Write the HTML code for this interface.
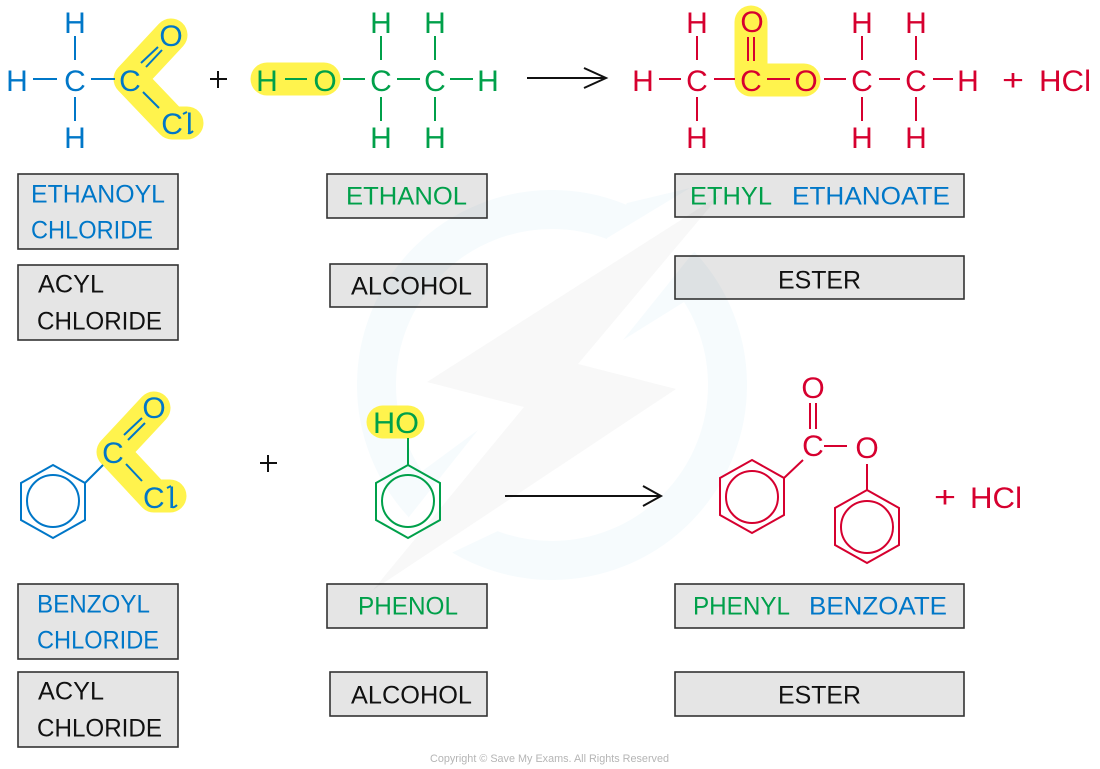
<!DOCTYPE html>
<html><head><meta charset="utf-8">
<style>
html,body{margin:0;padding:0;background:#fff;width:1100px;height:769px;overflow:hidden}
svg{display:block}
text{font-family:"Liberation Sans",sans-serif}
.a text{font-size:30px;text-anchor:middle}
.l text{font-size:25px}
.b{fill:#0077c8;stroke:none}.g{fill:#00a04a}.r{fill:#d6002f}.k{fill:#111}
.box rect{fill:#e5e5e5;stroke:#333;stroke-width:1.6}
.hl{fill:none;stroke:#fff34d;stroke-width:33;stroke-linecap:round;stroke-linejoin:round}
.sb{stroke:#0077c8;stroke-width:2;fill:none}.sg{stroke:#00a04a;stroke-width:2;fill:none}.sr{stroke:#d6002f;stroke-width:2;fill:none}.sk{stroke:#111;stroke-width:2;fill:none}
</style></head><body>
<svg width="1100" height="769" viewBox="0 0 1100 769" xmlns="http://www.w3.org/2000/svg">
<g class="box">
<rect x="18" y="174" width="160" height="75"/><rect x="18" y="265" width="160" height="75"/>
<rect x="327" y="174" width="160" height="44"/><rect x="330" y="264" width="157" height="43"/>
<rect x="675" y="174" width="289" height="43"/><rect x="675" y="256" width="289" height="43"/>
<rect x="18" y="584" width="160" height="75"/><rect x="18" y="672" width="160" height="75"/>
<rect x="327" y="584" width="160" height="44"/><rect x="330" y="672" width="157" height="44"/>
<rect x="675" y="584" width="289" height="44"/><rect x="675" y="672" width="289" height="44"/>
</g>
<g style="mix-blend-mode:multiply">
<circle cx="552" cy="385" r="175.5" fill="none" stroke="#f6fbfd" stroke-width="39"/>
<polygon points="607,238 690,188 770,210 693,253 623,340" fill="#fff"/>
<polygon points="500,530 373,590 395,530 408,518 478,430" fill="#fff"/>
<polygon points="607,238 627,203 690,188" fill="#f6fbfd"/>
<polygon points="693,253 623,340 684,302" fill="#f6fbfd"/>
<polygon points="478,430 421,472 408,518" fill="#f6fbfd"/>
<polygon points="720,195 427,382 524,407 373,590 676,389 578,364" fill="#f8f8f8"/>
</g>
<path class="hl" d="M171 35 L130 79 L172 123 L187 123"/>
<path class="hl" d="M267 79 H324"/>
<path class="hl" d="M751 22 V80 H804"/>
<path class="hl" d="M154 408 L113 452 L154 496 L170 496"/>
<path class="hl" d="M383 422 H408"/>
<g class="sb">
<path d="M33 79H57M91 79H115M75 36V60M75 97V121M141 63L158 47M146 67L162 50M143 92L159 108"/>
<polygon points="53,465 85,483 85,520 53,538 21,520 21,483"/>
<circle cx="53" cy="501" r="26"/>
<path d="M85 483L103 465M124 435L142 418M128 440L145 423M126 464L142 481"/>
<path d="M183 114L187 112M188 133Q190 134 193 131M167 488L171 486M172 507Q174 508 177 505"/>
</g>
<g class="sg">
<path d="M285 79H307M343 79H365M397 79H420M450 79H473M381 36V60M381 97V121M435 36V60M435 97V121"/>
<path d="M408 438V465"/>
<polygon points="408,465 440,483 440,520 408,538 376,520 376,483"/>
<circle cx="408" cy="501" r="26"/>
</g>
<g class="sr">
<path d="M659 79H681M714 79H735M767 79H790M824 79H846M879 79H900M933 79H953M697 36V60M697 97V121M862 36V60M862 97V121M916 36V60M916 97V121M748 37V61M754 37V61"/>
<path d="M810 403V429M816 403V429M824 446H847M867 464V490M784 478L803 460"/>
<polygon points="752,460 784,478 784,515 752,533 720,515 720,478"/>
<circle cx="752" cy="497" r="26"/>
<polygon points="867,490 899,508 899,545 867,563 835,545 835,508"/>
<circle cx="867" cy="527" r="26"/>
</g>
<g class="sk">
<path d="M527 78H606M584 68L606 78L584 88M505 496H661M643 486L661 496L643 506"/>
<path d="M210 79H227M218 71V88M260 463H277M268 455V472"/>
</g>
<g class="a">
<g class="b">
<text x="75" y="33">H</text>
<text x="17" y="91">H</text>
<text x="75" y="91">C</text>
<text x="130" y="91">C</text>
<text x="171" y="46">O</text>
<text x="177" y="134" textLength="31.4" lengthAdjust="spacing">Cl</text>
<text x="75" y="148">H</text>
<text x="113" y="463">C</text>
<text x="154" y="418">O</text>
<text x="159" y="508" textLength="32" lengthAdjust="spacing">Cl</text>
</g>
<g class="g">
<text x="267" y="91">H</text>
<text x="325" y="91">O</text>
<text x="381" y="91">C</text>
<text x="435" y="91">C</text>
<text x="488" y="91">H</text>
<text x="381" y="33">H</text>
<text x="435" y="33">H</text>
<text x="381" y="148">H</text>
<text x="435" y="148">H</text>
<text x="396" y="433" textLength="46" lengthAdjust="spacingAndGlyphs">HO</text>
</g>
<g class="r">
<text x="643" y="91">H</text>
<text x="697" y="91">C</text>
<text x="751" y="91">C</text>
<text x="806" y="91">O</text>
<text x="862" y="91">C</text>
<text x="916" y="91">C</text>
<text x="968" y="91">H</text>
<text x="697" y="33">H</text>
<text x="752" y="32">O</text>
<text x="862" y="33">H</text>
<text x="916" y="33">H</text>
<text x="697" y="148">H</text>
<text x="862" y="148">H</text>
<text x="916" y="148">H</text>
<text x="1013" y="90" textLength="22" lengthAdjust="spacingAndGlyphs">+</text>
<text x="1065" y="91" textLength="52" lengthAdjust="spacingAndGlyphs">HCl</text>
<text x="813" y="398">O</text>
<text x="813" y="456">C</text>
<text x="867" y="458">O</text>
<text x="945" y="507" textLength="22" lengthAdjust="spacingAndGlyphs">+</text>
<text x="996" y="508" textLength="52" lengthAdjust="spacingAndGlyphs">HCl</text>
</g>
</g>
<g class="l" transform="translate(0,-0.7)">
<g class="b">
<text x="31" y="203" textLength="134" lengthAdjust="spacingAndGlyphs">ETHANOYL</text>
<text x="31" y="239" textLength="122" lengthAdjust="spacingAndGlyphs">CHLORIDE</text>
<text x="792" y="205" textLength="158" lengthAdjust="spacingAndGlyphs">ETHANOATE</text>
<text x="37" y="613" textLength="113" lengthAdjust="spacingAndGlyphs">BENZOYL</text>
<text x="37" y="649" textLength="122" lengthAdjust="spacingAndGlyphs">CHLORIDE</text>
<text x="809" y="615" textLength="138" lengthAdjust="spacingAndGlyphs">BENZOATE</text>
</g>
<g class="g">
<text x="346" y="205" textLength="121" lengthAdjust="spacingAndGlyphs">ETHANOL</text>
<text x="690" y="205" textLength="82" lengthAdjust="spacingAndGlyphs">ETHYL</text>
<text x="358" y="615" textLength="100" lengthAdjust="spacingAndGlyphs">PHENOL</text>
<text x="693" y="615" textLength="97" lengthAdjust="spacingAndGlyphs">PHENYL</text>
</g>
<g class="k">
<text x="38" y="293" textLength="66" lengthAdjust="spacingAndGlyphs">ACYL</text>
<text x="37" y="330" textLength="125" lengthAdjust="spacingAndGlyphs">CHLORIDE</text>
<text x="351" y="295" textLength="121" lengthAdjust="spacingAndGlyphs">ALCOHOL</text>
<text x="778" y="289" textLength="83" lengthAdjust="spacingAndGlyphs">ESTER</text>
<text x="38" y="700" textLength="66" lengthAdjust="spacingAndGlyphs">ACYL</text>
<text x="37" y="737" textLength="125" lengthAdjust="spacingAndGlyphs">CHLORIDE</text>
<text x="351" y="704" textLength="121" lengthAdjust="spacingAndGlyphs">ALCOHOL</text>
<text x="778" y="704" textLength="83" lengthAdjust="spacingAndGlyphs">ESTER</text>
</g>
</g>
<text x="549.5" y="762" font-size="11" fill="#b5b5b5" text-anchor="middle" textLength="239" lengthAdjust="spacingAndGlyphs">Copyright © Save My Exams. All Rights Reserved</text>
</svg>
</body></html>
